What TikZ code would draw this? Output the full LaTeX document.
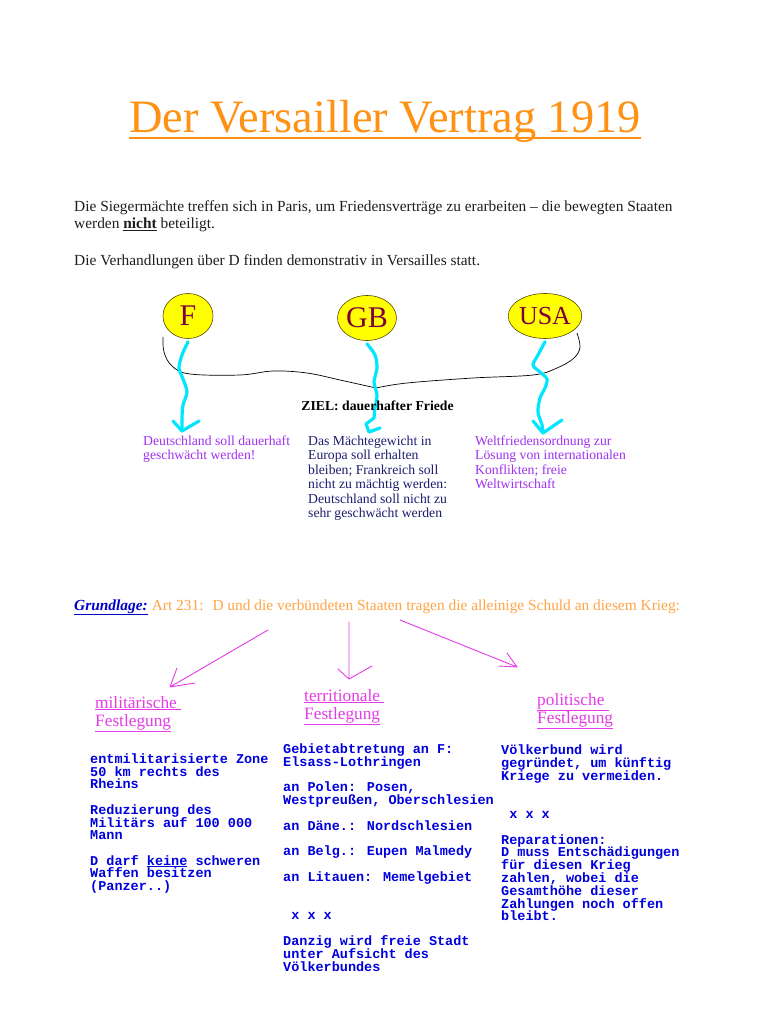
\documentclass[tikz,border=0pt]{standalone}
\usepackage{fontspec}
\usetikzlibrary{shapes.geometric}
\setmainfont{Liberation Serif}
\newfontfamily\monof{Liberation Mono}
\definecolor{titleor}{RGB}{255,145,20}
\definecolor{bodyk}{RGB}{30,30,30}
\definecolor{circfill}{RGB}{255,255,0}
\definecolor{circline}{RGB}{90,70,0}
\definecolor{circtext}{RGB}{128,0,64}
\definecolor{cyanc}{RGB}{0,230,255}
\definecolor{violetc}{RGB}{160,50,240}
\definecolor{navyc}{RGB}{30,30,110}
\definecolor{gblue}{RGB}{0,0,200}
\definecolor{artor}{RGB}{255,165,70}
\definecolor{magc}{RGB}{230,60,230}
\definecolor{monoblue}{RGB}{0,0,220}
\newcommand\ml[3]{\node[monotext] (#1) at (#2) {#3};}
\tikzset{
  titletext/.style={font=\fontsize{46.4}{50}\selectfont, text=titleor, inner sep=0, anchor=base},
  bodytext/.style={font=\fontsize{15.4}{17}\selectfont, text=bodyk, inner sep=0, anchor=base west},
  circ/.style={ellipse, draw=circline, line width=0.6pt, fill=circfill, minimum width=50pt, minimum height=45pt, inner sep=0, text=circtext, font=\fontsize{30}{32}\selectfont},
  ziel/.style={font=\fontsize{13.7}{15}\selectfont\bfseries, text=black, inner sep=0, anchor=base},
  goalv/.style={font=\fontsize{13.7}{15}\selectfont, text=violetc, inner sep=0, anchor=base west},
  goaln/.style={font=\fontsize{13.7}{15}\selectfont, text=navyc, inner sep=0, anchor=base west},
  cyarrow/.style={draw=cyanc, line width=3.2pt, line cap=round, line join=round},
  brace/.style={draw=black, line width=0.7pt},
  magarrow/.style={draw=magc, line width=0.9pt, line cap=round},
  labtext/.style={font=\fontsize{17.3}{19}\selectfont, text=magc, inner sep=0, anchor=base west},
  monotext/.style={font=\fontsize{13.5}{14}\selectfont\monof\bfseries, text=monoblue, inner sep=0, anchor=base west},
}
\begin{document}
\begin{tikzpicture}[x=1pt,y=-1pt]
\fill[white] (0,0) rectangle (768,1024);
\path[use as bounding box] (0,0) rectangle (768,1024);

% title
\node[titletext] (T) at (385,133) {Der Versailler Vertrag 1919};
\draw[titleor, line width=1.8pt] ([yshift=-5pt]T.base west) -- ([yshift=-5pt]T.base east);

% intro
\node[bodytext] (p1) at (74,212) {Die Siegermächte treffen sich in Paris, um Friedensverträge zu erarbeiten – die bewegten Staaten};
\node[bodytext] (p2) at (74,228.5) {werden \underline{\textbf{nicht}} beteiligt.};
\node[bodytext] (p3) at (74,265) {Die Verhandlungen über D finden demonstrativ in Versailles statt.};

% brace
\draw[brace] plot[smooth, tension=0.6] coordinates {(163,337) (164,352) (172,366) (190,374) (240,375) (273,371) (307,373) (340,380) (376,388)};
\draw[brace] plot[smooth, tension=0.6] coordinates {(376,388) (407,383) (473,378) (533,375) (557,368) (574,358) (580,347) (577,333)};

% powers
\node[circ] (F) at (188,316) {F};
\node[circ] (GB) at (367,318) {GB};
\node[circ, font=\fontsize{26}{28}\selectfont] (USA) at (545,316) {USA};

% cyan arrows
\coordinate (tF) at (182,431);
\coordinate (tGB) at (374,418);
\coordinate (tUSA) at (543,433);
\draw[cyarrow] plot[smooth, tension=0.5] coordinates {([yshift=-3pt]F.south) (182,355) (179,368) (183,379) (187,392) (183,405) (182,418) (tF)};
\draw[cyarrow] (tF) -- (173,421) (tF) -- (199,421);
\draw[cyarrow] plot[smooth, tension=0.5] coordinates {([yshift=-3pt]GB.south) (375,355) (377,368) (374,382) (377,395) (375,408) (tGB)};
\draw[cyarrow] (tGB) -- (366,424) -- (369,432) -- (380,428);
\draw[cyarrow] plot[smooth, tension=0.5] coordinates {([yshift=-3pt]USA.south) (538,355) (533,365) (540,372) (547,379) (545,388) (540,398) (538,412) (542,425) (tUSA)};
\draw[cyarrow] (tUSA) -- (533,421) (tUSA) -- (562,420);

\node[ziel] (Z) at (377.5,410) {ZIEL: dauerhafter Friede};

% goals
\node[goalv] (gF1) at (143,445) {Deutschland soll dauerhaft};
\node[goalv] (gF2) at (143,459.5) {geschwächt werden!};
\node[goaln] (gG1) at (308,445) {Das Mächtegewicht in};
\node[goaln] (gG2) at (308,459.5) {Europa soll erhalten};
\node[goaln] (gG3) at (308,474) {bleiben; Frankreich soll};
\node[goaln] (gG4) at (308,488.5) {nicht zu mächtig werden:};
\node[goaln] (gG5) at (308,503) {Deutschland soll nicht zu};
\node[goaln] (gG6) at (308,517.5) {sehr geschwächt werden};
\node[goalv] (gU1) at (475,445) {Weltfriedensordnung zur};
\node[goalv] (gU2) at (475,459.5) {Lösung von internationalen};
\node[goalv] (gU3) at (475,474) {Konflikten; freie};
\node[goalv] (gU4) at (475,488.5) {Weltwirtschaft};

% Grundlage
\node[bodytext, font=\fontsize{15.4}{17}\selectfont] (G) at (74,610) {\textcolor{gblue}{\underline{\textbf{\textit{Grundlage:}}}}\hspace{4pt}\textcolor{artor}{Art 231: \ D und die verbündeten Staaten tragen die alleinige Schuld an diesem Krieg:}};

% magenta arrows
\coordinate (m1s) at (268,630);
\coordinate (m1t) at (170,687);
\coordinate (m2s) at (349,622);
\coordinate (m2t) at (349,679);
\coordinate (m3s) at (400,620);
\coordinate (m3t) at (517,667);
\draw[magarrow] (m1s) -- (m1t) (m1t) -- (177,668) (m1t) -- (195,683);
\draw[magarrow] (m2s) -- (m2t) (m2t) -- (338,669) (m2t) -- (372,666);
\draw[magarrow] (m3s) -- (m3t) (m3t) -- (499,666) (m3t) -- (507,653);

% labels
\node[labtext] (L1a) at (95,708) {\underline{militärische\ }};
\node[labtext] (L1b) at (95,726) {\underline{Festlegung}};
\node[labtext] (L2a) at (304,701) {\underline{territionale\ }};
\node[labtext] (L2b) at (304,719) {\underline{Festlegung}};
\node[labtext] (L3a) at (537,705) {\underline{politische\ }};
\node[labtext] (L3b) at (537,723) {\underline{Festlegung}};

% left block
\ml{a1}{90,763.5}{entmilitarisierte Zone}
\ml{a2}{90,776.2}{50 km rechts des}
\ml{a3}{90,788.9}{Rheins}
\ml{a4}{90,814.3}{Reduzierung des}
\ml{a5}{90,827}{Militärs auf 100 000}
\ml{a6}{90,839.7}{Mann}
\ml{a7}{90,865.1}{D darf \underline{keine} schweren}
\ml{a8}{90,877.8}{Waffen besitzen}
\ml{a9}{90,890.5}{(Panzer..)}

% middle block
\ml{b1}{283,753.5}{Gebietabtretung an F:}
\ml{b2}{283,766.3}{Elsass-Lothringen}
\ml{b3}{283,791.9}{an Polen: Posen,}
\ml{b4}{283,804.7}{Westpreußen, Oberschlesien}
\ml{b5}{283,830.3}{an Däne.: Nordschlesien}
\ml{b6}{283,855.9}{an Belg.: Eupen Malmedy}
\ml{b7}{283,881.5}{an Litauen: Memelgebiet}
\ml{b8}{283,919.9}{\phantom{x}x x x}
\ml{b9}{283,945.5}{Danzig wird freie Stadt}
\ml{b10}{283,958.3}{unter Aufsicht des}
\ml{b11}{283,971.1}{Völkerbundes}

% right block
\ml{c1}{501,754.5}{Völkerbund wird}
\ml{c2}{501,767.3}{gegründet, um künftig}
\ml{c3}{501,780.1}{Kriege zu vermeiden.}
\ml{c4}{501,818.5}{\phantom{x}x x x}
\ml{c5}{501,844.1}{Reparationen:}
\ml{c6}{501,856.9}{D muss Entschädigungen}
\ml{c7}{501,869.7}{für diesen Krieg}
\ml{c8}{501,882.5}{zahlen, wobei die}
\ml{c9}{501,895.3}{Gesamthöhe dieser}
\ml{c10}{501,908.1}{Zahlungen noch offen}
\ml{c11}{501,920.9}{bleibt.}
\end{tikzpicture}
\end{document}
